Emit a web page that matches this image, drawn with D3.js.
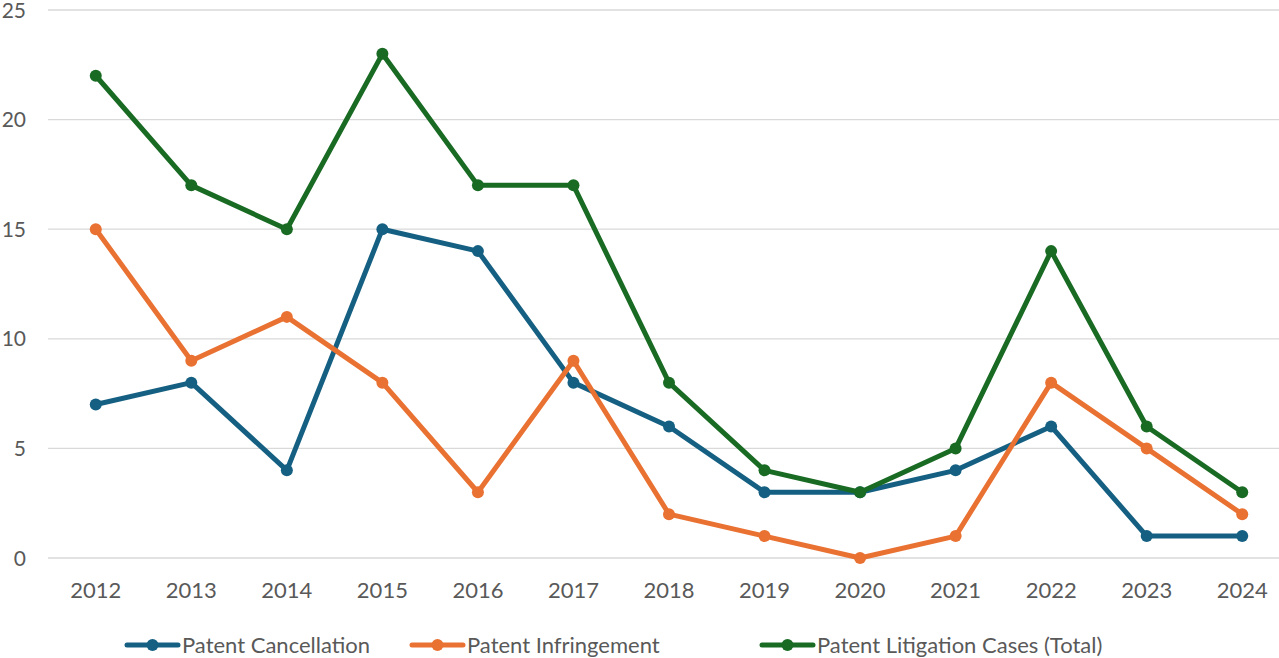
<!DOCTYPE html>
<html>
<head>
<meta charset="utf-8">
<script src="https://d3js.org/d3.v7.min.js"></script>
<style>
	body {
		margin: 0;
		background: #fff;
		font-family: Lato, "Open Sans", sans-serif;
	}
</style>
</head>
<body>
<div id="chart"></div>
<script>
	var years = ["2012","2013","2014","2015","2016","2017","2018","2019","2020","2021","2022","2023","2024"];
	var cancellation = [7,8,4,15,14,8,6,3,3,4,6,1,1];
	var infringement = [15,9,11,8,3,9,2,1,0,1,8,5,2];
	var total = [22,17,15,23,17,17,8,4,3,5,14,6,3];
	var yTicks = [0,5,10,15,20,25];

	var seriesNames = ["Patent Cancellation","Patent Infringement","Patent Litigation Cases (Total)"];
	var seriesColors = ["#156082","#e97132","#196b24"];
	var seriesValues = [cancellation, infringement, total];

	var width = 1279, height = 658;
	var svg = d3.select("#chart").append("svg")
		.attr("width", width)
		.attr("height", height)
		.style("display", "block");

	var x = d3.scaleBand().domain(years).range([48, 1290]);
	var y = d3.scaleLinear().domain([0, 25]).range([558, 10]);

	// gridlines
	svg.append("g").selectAll("line")
		.data(yTicks)
		.enter().append("line")
		.attr("x1", 48).attr("x2", 1290)
		.attr("y1", function(d){ return y(d); })
		.attr("y2", function(d){ return y(d); })
		.attr("stroke", "#d9d9d9")
		.attr("stroke-width", 1.3);

	// y labels
	svg.append("g").selectAll("text")
		.data(yTicks)
		.enter().append("text")
		.attr("x", 26)
		.attr("y", function(d){ return y(d) + 7.5; })
		.attr("text-anchor", "end")
		.attr("fill", "#595959")
		.style("font-size", "21px")
		.text(function(d){ return d; });

	// x labels
	svg.append("g").selectAll("text")
		.data(years)
		.enter().append("text")
		.attr("x", function(d){ return x(d) + x.bandwidth()/2; })
		.attr("y", 598)
		.attr("text-anchor", "middle")
		.attr("fill", "#595959")
		.style("font-size", "22px")
		.text(function(d){ return d; });

	var line = d3.line()
		.x(function(d, i){ return x(years[i]) + x.bandwidth()/2; })
		.y(function(d){ return y(d); });

	seriesValues.forEach(function(vals, s){
		var g = svg.append("g");
		g.append("path")
			.datum(vals)
			.attr("d", line)
			.attr("fill", "none")
			.attr("stroke", seriesColors[s])
			.attr("stroke-width", 5)
			.attr("stroke-linejoin", "round");
		g.selectAll("circle")
			.data(vals)
			.enter().append("circle")
			.attr("cx", function(d, i){ return x(years[i]) + x.bandwidth()/2; })
			.attr("cy", function(d){ return y(d); })
			.attr("r", 6)
			.attr("fill", seriesColors[s]);
	});

	// legend
	var legendX = [127, 412, 762];
	var legend = svg.append("g").selectAll("g")
		.data(seriesNames)
		.enter().append("g")
		.attr("transform", function(d, i){ return "translate(" + legendX[i] + ",645)"; });
	legend.append("line")
		.attr("x1", 0).attr("x2", 51)
		.attr("stroke", function(d, i){ return seriesColors[i]; })
		.attr("stroke-width", 5)
		.attr("stroke-linecap", "round");
	legend.append("circle")
		.attr("cx", 25.5).attr("r", 6)
		.attr("fill", function(d, i){ return seriesColors[i]; });
	legend.append("text")
		.attr("x", 55)
		.attr("y", 8)
		.attr("fill", "#595959")
		.style("font-size", "22px")
		.text(function(d){ return d; });
</script>
</body>
</html>
